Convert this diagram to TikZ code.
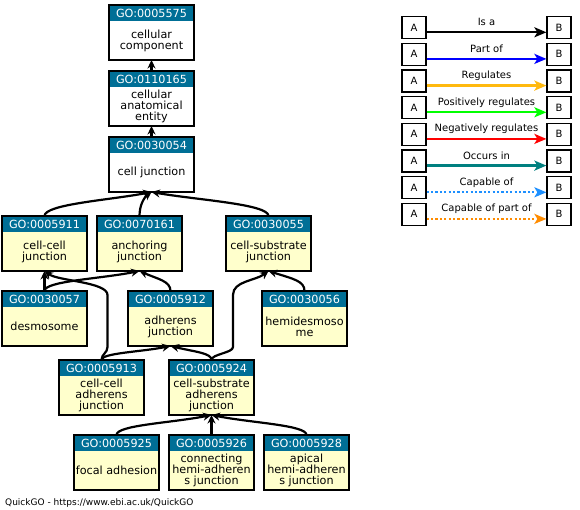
\documentclass[tikz,border=0pt]{standalone}
\usepackage{fontspec}
\setmainfont{DejaVu Sans}
\usetikzlibrary{arrows.meta}
\definecolor{hdr}{RGB}{0,111,150}
\definecolor{yel}{RGB}{255,255,204}
\definecolor{regc}{RGB}{255,185,15}
\definecolor{posc}{RGB}{0,255,0}
\definecolor{negc}{RGB}{255,0,0}
\definecolor{occc}{RGB}{0,128,128}
\definecolor{capc}{RGB}{30,144,255}
\definecolor{cppc}{RGB}{255,140,0}
\tikzset{
  gobox/.style={rectangle, draw=none, minimum width=85pt, minimum height=55pt, inner sep=0pt, outer sep=0pt},
  boxline/.style={draw=black, line width=1.5pt},
  hdrtext/.style={text=white, inner sep=0pt, font=\fontsize{11.2}{11}\selectfont},
  bodytext/.style={text=black, inner sep=0pt, align=center, font=\fontsize{11.2}{11}\selectfont},
  isa/.style={draw=black, line width=2.2pt, -{Stealth[length=8.5pt,width=8pt]}},
  legbox/.style={rectangle, draw=black, line width=1.2pt, minimum width=24pt, minimum height=22pt, inner sep=0pt, font=\fontsize{10}{10}\selectfont},
  legline/.style={line width=2.2pt, -{Stealth[length=12pt,width=10pt,inset=3pt]}},
  leglabel/.style={inner sep=0pt, font=\fontsize{10}{10}\selectfont},
}
\newcommand{\gonode}[6]{%
  \node[gobox, fill=#6] (#1) at (#2,#3) {};
  \fill[hdr] (#1.north west) rectangle ([yshift=-16pt]#1.north east);
  \draw[boxline] (#1.north west) rectangle (#1.south east);
  \node[hdrtext] (#1h) at ([yshift=-8pt]#1.north) {#4};
  \node[bodytext] (#1t) at ([yshift=-8pt]#1.center) {#5};
}
\newcommand{\legrow}[4]{%
  \node[legbox] (la#1) at (414,#2+11) {A};
  \node[legbox] (lb#1) at (559,#2+11) {B};
  \draw[legline, #4] ([yshift=-4.6pt]la#1.east) -- ([yshift=-4.6pt]lb#1.west);
  \node[leglabel] (ll#1) at (486.5,#2+5.6) {#3};
}
\begin{document}
\begin{tikzpicture}[x=1pt, y=-1pt]
\useasboundingbox (0,0) rectangle (580,510);
\fill[white] (0,0) rectangle (580,510);

% nodes
\gonode{n5575}{151.5}{32.5}{GO:0005575}{cellular\\component}{white}
\gonode{n110165}{151.5}{98.5}{GO:0110165}{cellular\\anatomical\\entity}{white}
\gonode{n30054}{151.5}{164.5}{GO:0030054}{cell junction}{white}
\gonode{n5911}{44.5}{243.5}{GO:0005911}{cell-cell\\junction}{yel}
\gonode{n70161}{139.5}{243.5}{GO:0070161}{anchoring\\junction}{yel}
\gonode{n30055}{268.5}{243.5}{GO:0030055}{cell-substrate\\junction}{yel}
\gonode{n30057}{44.5}{318.5}{GO:0030057}{desmosome}{yel}
\gonode{n5912}{170.5}{318.5}{GO:0005912}{adherens\\junction}{yel}
\gonode{n30056}{304.5}{318.5}{GO:0030056}{hemidesmoso\\me}{yel}
\gonode{n5913}{101.5}{387.5}{GO:0005913}{cell-cell\\adherens\\junction}{yel}
\gonode{n5924}{211.5}{387.5}{GO:0005924}{cell-substrate\\adherens\\junction}{yel}
\gonode{n5925}{116.5}{462.5}{GO:0005925}{focal adhesion}{yel}
\gonode{n5926}{211.5}{462.5}{GO:0005926}{connecting\\hemi-adheren\\s junction}{yel}
\gonode{n5928}{306.5}{462.5}{GO:0005928}{apical\\hemi-adheren\\s junction}{yel}

% edges
\draw[isa] (n110165.north) -- (n5575.south);
\draw[isa] (n30054.north) -- (n110165.south);
\draw[isa] (n5911.north) .. controls +(0,-12) and +(-40,8) .. (n30054.south);
\draw[isa] (n70161.north) .. controls +(0,-10) and +(-8,6) .. (n30054.south);
\draw[isa] (n30055.north) .. controls +(0,-12) and +(45,8) .. (n30054.south);
\draw[isa] (n30057.north) -- (n5911.south);
\draw[isa] (n30057.north) .. controls +(0,-10) and +(-40,8) .. (n70161.south);
\draw[isa] (n5913.north) .. controls +(0,-6) and +(0,6) .. (107.5,347) -- (107.5,295)
   .. controls (107.5,282) and (58,281) .. (n5911.south);
\draw[isa] (n5913.north) .. controls +(0,-7) and +(-30,6) .. (n5912.south);
\draw[isa] (n5924.north) .. controls +(0,-7) and +(25,6) .. (n5912.south);
\draw[isa] (n5924.north) .. controls +(0,-6) and +(0,6) .. (233,347) -- (233,295)
   .. controls (233,281) and (255,281) .. (n30055.south);
\draw[isa] (n30056.north) .. controls +(0,-10) and +(25,8) .. (n30055.south);
\draw[isa] (n5912.north) .. controls +(0,-10) and +(18,8) .. (n70161.south);
\draw[isa] (n5925.north) .. controls +(0,-10) and +(-40,8) .. (n5924.south);
\draw[isa] (n5926.north) -- (n5924.south);
\draw[isa] (n5928.north) .. controls +(0,-10) and +(40,8) .. (n5924.south);

% legend
\legrow{1}{16.7}{Is a}{draw=black}
\legrow{2}{43.3}{Part of}{draw=blue}
\legrow{3}{70}{Regulates}{draw=regc}
\legrow{4}{96.7}{Positively regulates}{draw=posc}
\legrow{5}{123.3}{Negatively regulates}{draw=negc}
\legrow{6}{150}{Occurs in}{draw=occc}
\legrow{7}{176.7}{Capable of}{draw=capc, dash pattern=on 2.2pt off 2.2pt}
\legrow{8}{203.3}{Capable of part of}{draw=cppc, dash pattern=on 2.2pt off 2.2pt}

\node[anchor=west, inner sep=0pt, font=\fontsize{9}{10}\selectfont] (foot) at (5,503) {QuickGO - https://www.ebi.ac.uk/QuickGO};
\end{tikzpicture}
\end{document}
